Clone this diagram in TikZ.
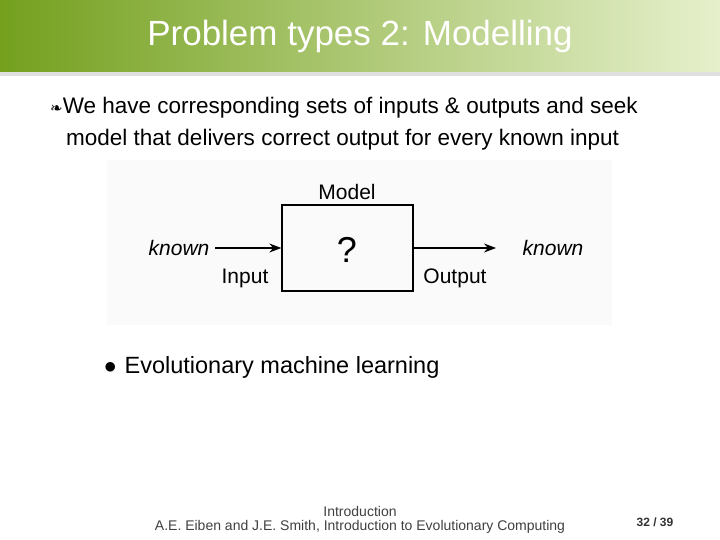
\documentclass[tikz,border=0pt]{standalone}
\usepackage{fontspec}
\setmainfont{Liberation Sans}
\newfontfamily\djv{DejaVu Sans}
\usetikzlibrary{arrows.meta}
\definecolor{hdl}{HTML}{74A01E}
\definecolor{hdr}{HTML}{E6F0CC}
\begin{document}
\begin{tikzpicture}[x=1pt,y=-1pt,
  lbl/.style={font=\fontsize{21}{21}\selectfont, inner sep=0},
  conn/.style={line width=1.3pt,-{Stealth[length=12pt,width=9pt]}}]
\useasboundingbox (0,0) rectangle (720,540);
\fill[white] (0,0) rectangle (720,540);
\fill[black!12] (0,72) rectangle (720,76);
\shade[left color=hdl, right color=hdr] (0,0) rectangle (720,72);
\node[text=white, font=\fontsize{35}{35}\selectfont] (title) at (360,36) {Problem types 2: Modelling};
\node[font=\fontsize{22.5}{22.5}\selectfont, anchor=west, inner sep=0] (b1) at (50,108) {{\djv\fontsize{15}{15}\selectfont ❧}We have corresponding sets of inputs \& outputs and seek};
\node[font=\fontsize{22.5}{22.5}\selectfont, anchor=west, inner sep=0] (b2) at (66,140) {model that delivers correct output for every known input};
\fill[black!2] (107,160) rectangle (612,325);
\node[draw, line width=1.3pt, minimum width=131pt, minimum height=86pt] (box) at (347.5,248) {};
\node[font=\fontsize{36}{36}\selectfont] (q) at (347,250) {?};
\node[lbl] (model) at (347,192) {Model};
\node[lbl, font=\itshape\fontsize{21}{21}\selectfont] (kin) at (179,248) {known};
\node[lbl, font=\itshape\fontsize{21}{21}\selectfont] (kout) at (553,248) {known};
\node[lbl] (inp) at (245,278) {Input};
\node[lbl] (outp) at (455,278) {Output};
\coordinate (a0) at (215,248);
\coordinate (a1) at (496,248);
\draw[conn] (a0) -- (box.west);
\draw[conn] (box.east) -- (a1);
\node[font=\fontsize{23.5}{23.5}\selectfont, anchor=west, inner sep=0] (b3) at (104,367) {$\bullet$\hspace{8pt}Evolutionary machine learning};
\node[font=\fontsize{14}{14}\selectfont, text=black!75] (f1) at (360,511) {Introduction};
\node[font=\fontsize{14}{14}\selectfont, text=black!75] (f2) at (360,527) {A.E. Eiben and J.E. Smith, Introduction to Evolutionary Computing};
\node[font=\bfseries\fontsize{12}{12}\selectfont, text=black!80] (pg) at (655,522) {32 / 39};
\end{tikzpicture}
\end{document}
